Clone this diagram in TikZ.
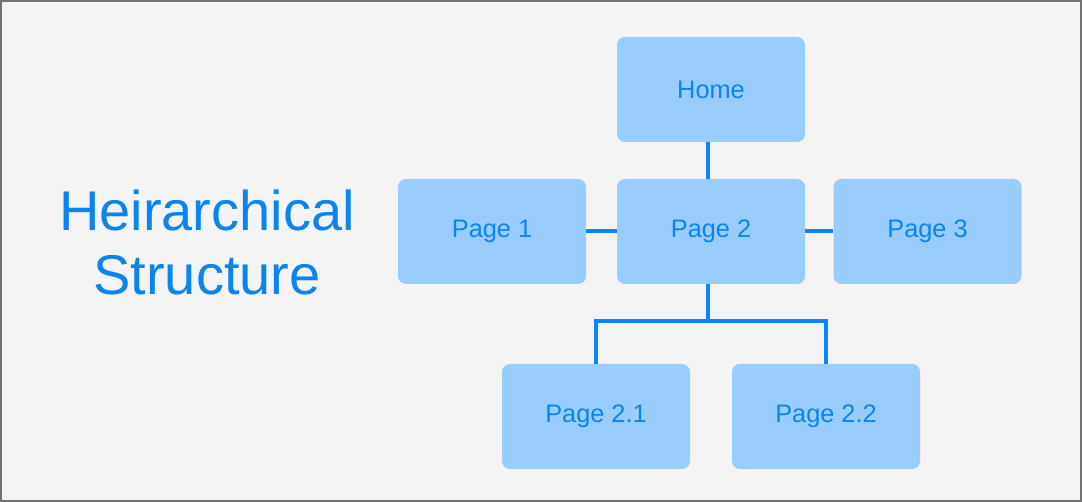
\documentclass[tikz,border=0pt]{standalone}
\usepackage{fontspec}
\setmainfont{Liberation Sans}
\definecolor{bg}{HTML}{F4F4F4}
\definecolor{bx}{HTML}{99CCFF}
\definecolor{tx}{HTML}{0A84F0}
\definecolor{ln}{HTML}{0A84FF}
\begin{document}
\begin{tikzpicture}[x=0.75pt,y=-0.75pt,
  box/.style={fill=bx,rounded corners=6pt,minimum width=141pt,minimum height=78.75pt,inner sep=0pt,text=tx,font=\fontsize{19pt}{22pt}\selectfont},
  con/.style={draw=ln,line width=3pt}]
\useasboundingbox (0,0) rectangle (1082,502);
\draw[fill=bg,draw=gray!110,line width=1.5pt] (1,1) rectangle (1081,501);
\node[text=tx,align=center,font=\fontsize{42pt}{48pt}\selectfont] (title) at (207,242) {Heirarchical\\Structure};
\node[box] (home) at (711,89.5) {Home};
\node[box] (p2) at (711,231.5) {Page 2};
\node[box] (p1) at (492,231.5) {Page 1};
\node[box] (p3) at (927.5,231.5) {Page 3};
\node[box] (p21) at (596,416.5) {Page 2.1};
\node[box] (p22) at (826,416.5) {Page 2.2};
\coordinate (j) at (708,321);
\draw[con] (home.south -| j) -- (p2.north -| j);
\draw[con] (p1.east) -- (p2.west);
\draw[con] (p2.east) -- (p3.west);
\draw[con] (p2.south -| j) -- (j);
\draw[con] (p21.north) |- (j) -| (p22.north);
\end{tikzpicture}
\end{document}
